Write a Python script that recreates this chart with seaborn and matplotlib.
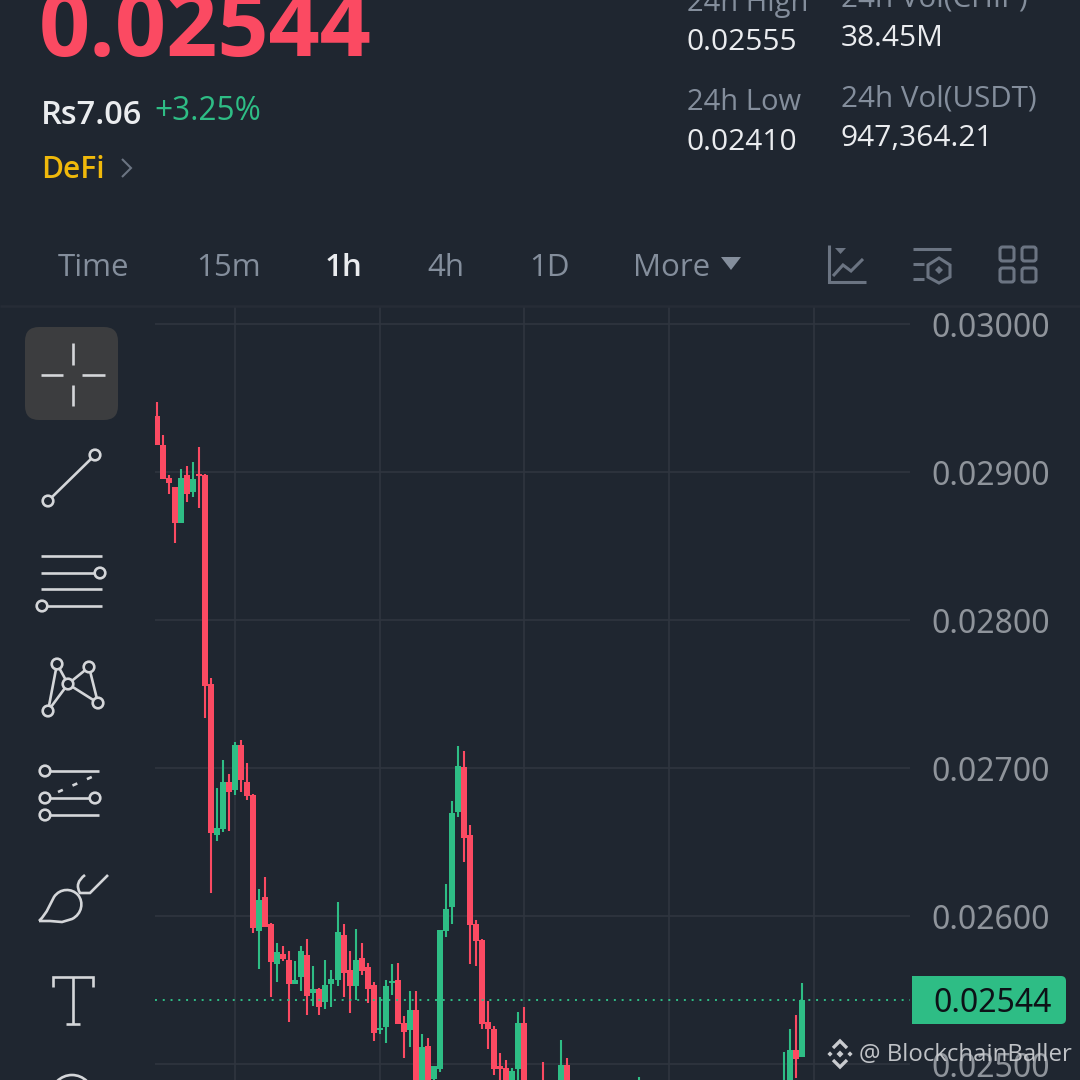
import matplotlib
matplotlib.use('Agg')
import matplotlib.pyplot as plt
from matplotlib.patches import Circle, FancyBboxPatch, Polygon, Rectangle, PathPatch
from matplotlib.path import Path
import pandas as pd
import seaborn as sns

# hourly candles, index along the time axis (the ones in between are below the visible area)
candle_idx = list(range(0, 62)) + [64, 67, 68, 80, 104, 105, 106, 107]
opens = [29378, 29182, 28959, 28899, 28655, 28980, 28865, 28986, 28980, 27567,
         26547, 26588, 26905, 26851, 27155, 26905, 26817, 25898, 26128, 25946,
         25676, 25743, 25703, 25540, 25588, 25736, 25480, 25507, 25419, 25540,
         25567, 25872, 25635, 25527, 25716, 25655, 25534, 25230, 25250, 25547,
         25567, 25277, 25230, 25365, 24850, 25121, 24900, 24966, 25898, 26061,
         26703, 27007, 26547, 25946, 25838, 25284, 25236, 24986, 24973, 24840,
         24966, 25277, 24880, 24860, 24993, 24840, 24840, 24860, 25094, 25047]
highs = [29473, 29250, 28980, 28899, 29020, 29041, 29068, 29169, 28986, 27608,
         26865, 27054, 26959, 27176, 27189, 27034, 26824, 26182, 26263, 25953,
         25817, 25797, 25763, 25696, 25797, 25844, 25662, 25514, 25703, 25635,
         26094, 25946, 25763, 25912, 25817, 25682, 25554, 25453, 25567, 25676,
         25682, 25324, 25493, 25493, 25203, 25176, 24986, 25905, 26216, 26777,
         27149, 27115, 26615, 25973, 25844, 25426, 25257, 25074, 25027, 24973,
         25351, 25385, 25013, 25162, 25040, 24912, 25081, 25236, 25331, 25547]
lows = [29182, 28953, 28851, 28520, 28655, 28797, 28831, 28757, 27338, 26155,
        26507, 26567, 26574, 26817, 26838, 26784, 25885, 25642, 25925, 25453,
        25554, 25696, 25284, 25540, 25493, 25331, 25392, 25331, 25372, 25385,
        25527, 25453, 25344, 25432, 25601, 25412, 25155, 25203, 25142, 25466,
        25270, 25040, 25115, 24790, 24820, 24850, 24880, 24946, 25858, 25946,
        26669, 26365, 25676, 25662, 25236, 25101, 24925, 24850, 24830, 24820,
        24885, 24820, 24800, 24830, 24840, 24820, 24820, 24840, 24905, 25047]
closes = [29182, 28953, 28926, 28655, 28959, 28851, 28953, 28973, 27554, 26561,
          26594, 26905, 26838, 27155, 26919, 26811, 25919, 26108, 25925, 25689,
          25757, 25709, 25540, 25567, 25763, 25459, 25507, 25385, 25534, 25574,
          25892, 25615, 25527, 25703, 25628, 25507, 25209, 25243, 25527, 25561,
          25270, 25216, 25365, 24810, 25115, 24880, 24986, 25905, 26047, 26696,
          27013, 26527, 25939, 25831, 25270, 25236, 24966, 24966, 24860, 24953,
          25277, 24850, 24820, 24993, 24860, 24870, 24880, 25094, 25034, 25432]

last_price = 0.02543
last_price_text = '0.02544'
y_ticks = [0.03000, 0.02900, 0.02800, 0.02700, 0.02600, 0.02500]
day_ticks = [13, 37, 61, 85, 109]

BG = '#1f2630'
GRID = '#2f353f'
RED = '#fb4a62'
GREEN = '#2ebd85'
GREY = '#848e9c'
TICK = '#8f949b'
ICON = '#d4d6d9'
ICON2 = '#6b7482'
WHITE = '#eaecef'
FONT = 'Open Sans'

sns.set_theme(style='dark', rc={'axes.facecolor': BG, 'figure.facecolor': BG, 'axes.grid': True})
plt.rcParams['font.family'] = [FONT, 'DejaVu Sans']

fig = plt.figure(figsize=(10.8, 10.8), dpi=100)
ax = fig.add_axes([155 / 1080, 0, 755 / 1080, 773 / 1080])

rows_wick = []
rows_body = []
for i, o, h, l, c in zip(candle_idx, opens, highs, lows, closes):
    side = 'up' if c >= o else 'down'
    rows_wick += [(i, h / 1e6, side), (i, l / 1e6, side)]
    rows_body += [(i, o / 1e6, side), (i, c / 1e6, side)]
wicks = pd.DataFrame(rows_wick, columns=['t', 'price', 'side'])
bodies = pd.DataFrame(rows_body, columns=['t', 'price', 'side'])
colors = {'up': GREEN, 'down': RED}

sns.lineplot(data=wicks, x='t', y='price', hue='side', units='t', estimator=None, sort=False,
             palette=colors, linewidth=1.5, solid_capstyle='butt', legend=False, ax=ax, zorder=3)
sns.lineplot(data=bodies, x='t', y='price', hue='side', units='t', estimator=None, sort=False,
             palette=colors, linewidth=4.32, solid_capstyle='butt', legend=False, ax=ax, zorder=4)

ax.axhline(last_price, color=GREEN, lw=1.4, ls=(0, (1, 3)), zorder=5)

ax.set_xlim(-0.265, 124.94)
ax.set_ylim(0.024892, 0.030115)
ax.set_xticks(day_ticks)
ax.set_yticks(y_ticks)
ax.set_yticklabels([f'{v:.5f}' for v in y_ticks], fontsize=23, color=TICK, family='Noto Sans')
ax.set_xticklabels([])
ax.set_xlabel('')
ax.set_ylabel('')
ax.yaxis.tick_right()
ax.tick_params(axis='y', length=0, pad=15.5)
ax.tick_params(axis='x', length=0)
ax.grid(True, color=GRID, lw=1.2)
ax.set_axisbelow(True)
for s in ax.spines.values():
    s.set_visible(False)

# everything around the chart, in screen pixels
ui = fig.add_axes([0, 0, 1, 1], facecolor='none')
ui.set_xlim(0, 1080)
ui.set_ylim(1080, 0)
ui.axis('off')


def line(pts, color=ICON, lw=1.9, **kw):
    xs, ys = zip(*pts)
    ui.plot(xs, ys, color=color, lw=lw, solid_capstyle='butt', solid_joinstyle='miter', **kw)


def ring(x, y, r=5.3, color=ICON, lw=1.9):
    ui.add_patch(Circle((x, y), r, fc=BG, ec=color, lw=lw, zorder=6))


def label(x, y, s, size, color, weight='normal', **kw):
    ui.text(x, y, s, fontsize=size, color=color, fontweight=weight, va='center', ha='left', **kw)


# header
label(39, 33, '0.02544', 64.5, RED, 'bold')
label(41, 116, 'Rs7.06', 23.5, WHITE, 'semibold')
label(154, 112, '+3.25%', 22.8, GREEN)
label(41, 170, 'DeFi', 21.5, '#f0b90b', 'semibold')
line([(122, 159), (131, 168), (122, 177)], color=ICON2, lw=1.5)

label(687, 3, '24h High', 21, GREY)
label(841, -1, '24h Vol(CHIP)', 21.3, GREY)
label(687, 42, '0.02555', 21.5, WHITE)
label(841, 39, '38.45M', 21.5, WHITE)
label(687, 103, '24h Low', 21, GREY)
label(841, 99, '24h Vol(USDT)', 21.3, GREY)
label(687, 142, '0.02410', 21.5, WHITE)
label(841, 139, '947,364.21', 21.5, WHITE)

# interval tabs
label(58, 268, 'Time', 22.5, GREY)
label(196, 268, '15m', 22.5, GREY)
label(325, 268, '1h', 22.5, WHITE, 'semibold')
label(427, 268, '4h', 22.5, GREY)
label(529, 268, '1D', 22.5, GREY)
label(633, 268, 'More', 22.5, GREY)
ui.add_patch(Polygon([(721, 257), (741, 257), (731, 270)], fc=GREY, ec='none'))

# top right icons
line([(829, 245), (829, 282), (866, 282)], color=ICON2, lw=2.2)
ui.add_patch(Polygon([(835, 248), (846, 248), (840.5, 254)], fc=ICON2, ec='none'))
line([(833, 276), (843, 265), (851, 271), (863, 259)], color=ICON2, lw=2.2)
line([(913, 249), (951, 249)], color=ICON2, lw=2.2)
line([(913, 264), (924, 264)], color=ICON2, lw=2.2)
line([(913, 279), (924, 279)], color=ICON2, lw=2.2)
ui.add_patch(Polygon([(939, 258), (950, 265), (950, 277), (939, 283), (928, 277), (928, 265)],
                     fc='none', ec=ICON2, lw=2.2))
ui.add_patch(Polygon([(939, 266), (943, 270), (939, 274), (935, 270)], fc=ICON2, ec='none'))
for bx in [1000, 1022]:
    for by in [247, 268]:
        ui.add_patch(FancyBboxPatch((bx + 2, by + 2), 10, 10, boxstyle='round,pad=2,rounding_size=2.5',
                                    fc='none', ec=ICON2, lw=2.2))

line([(0, 306), (1080, 306)], color='#262c36', lw=1.8)

# drawing tools
ui.add_patch(FancyBboxPatch((39, 341), 65, 65, boxstyle='round,pad=14,rounding_size=14', fc='#3c3d3f', ec='none'))
line([(73, 343), (73, 365)])
line([(73, 385), (73, 406)])
line([(41, 375), (63, 375)])
line([(82, 375), (105, 375)])

line([(48, 501), (95, 455)])
ring(48, 501)
ring(95, 455)

line([(41, 556), (102, 556)])
line([(41, 573), (100, 573)])
line([(41, 589), (102, 589)])
line([(42, 606), (102, 606)])
ring(100, 573)
ring(42, 606)

line([(48, 711), (57, 664), (68, 684), (89, 667), (98, 703), (68, 684), (48, 711)])
for px, py in [(57, 664), (89, 667), (68, 684), (98, 703), (48, 711)]:
    ring(px, py)

line([(45, 771), (99, 771)])
line([(58, 792), (94, 776)], ls=(0, (2, 4)))
line([(45, 798), (95, 798)])
line([(45, 815), (99, 815)])
for px, py in [(45, 771), (45, 798), (95, 798), (45, 815)]:
    ring(px, py)

brush = Path([(39, 921), (48, 912), (50, 904), (54, 897), (60, 888), (72, 888), (78, 895),
              (84, 902), (82, 914), (72, 919), (62, 922), (50, 921), (39, 921)],
             [Path.MOVETO] + [Path.CURVE4] * 9 + [Path.LINETO] * 3)
ui.add_patch(PathPatch(brush, fc='none', ec=ICON, lw=1.9))
handle = Path([(85, 875), (74, 883), (80, 893), (90, 893), (108, 875)],
              [Path.MOVETO, Path.CURVE3, Path.CURVE3, Path.LINETO, Path.LINETO])
ui.add_patch(PathPatch(handle, fc='none', ec=ICON, lw=1.9))

line([(53, 987), (53, 977), (93, 977), (93, 987)])
line([(73, 977), (73, 1024)])
line([(66, 1024), (80, 1024)])

ui.add_patch(Circle((72, 1096), 21, fc='none', ec=ICON, lw=1.9))

# last price tag
ui.add_patch(Rectangle((912, 976), 20, 48, fc=GREEN, ec='none', zorder=6))
ui.add_patch(FancyBboxPatch((917, 981), 144, 38, boxstyle='round,pad=5,rounding_size=5', fc=GREEN, ec='none', zorder=6))
ui.text(933, 1003, last_price_text, fontsize=23, color='#0d1117', family='Noto Sans',
        va='center', ha='left', zorder=7)

# watermark
wm = '#c9cbcf'
for cx, cy, r in [(840, 1054, 3.5), (830, 1054, 2.6), (850, 1054, 2.6)]:
    ui.add_patch(Polygon([(cx, cy - r), (cx + r, cy), (cx, cy + r), (cx - r, cy)], fc=wm, ec='none', zorder=8))
line([(833, 1048), (840, 1041), (847, 1048)], color=wm, lw=2.4, zorder=8)
line([(833, 1060), (840, 1067), (847, 1060)], color=wm, lw=2.4, zorder=8)
ui.text(859, 1055, '@ BlockchainBaller', fontsize=17.3, color=wm, va='center', ha='left', alpha=0.95, zorder=8)

fig.savefig('out.png', dpi=100, facecolor=BG)
